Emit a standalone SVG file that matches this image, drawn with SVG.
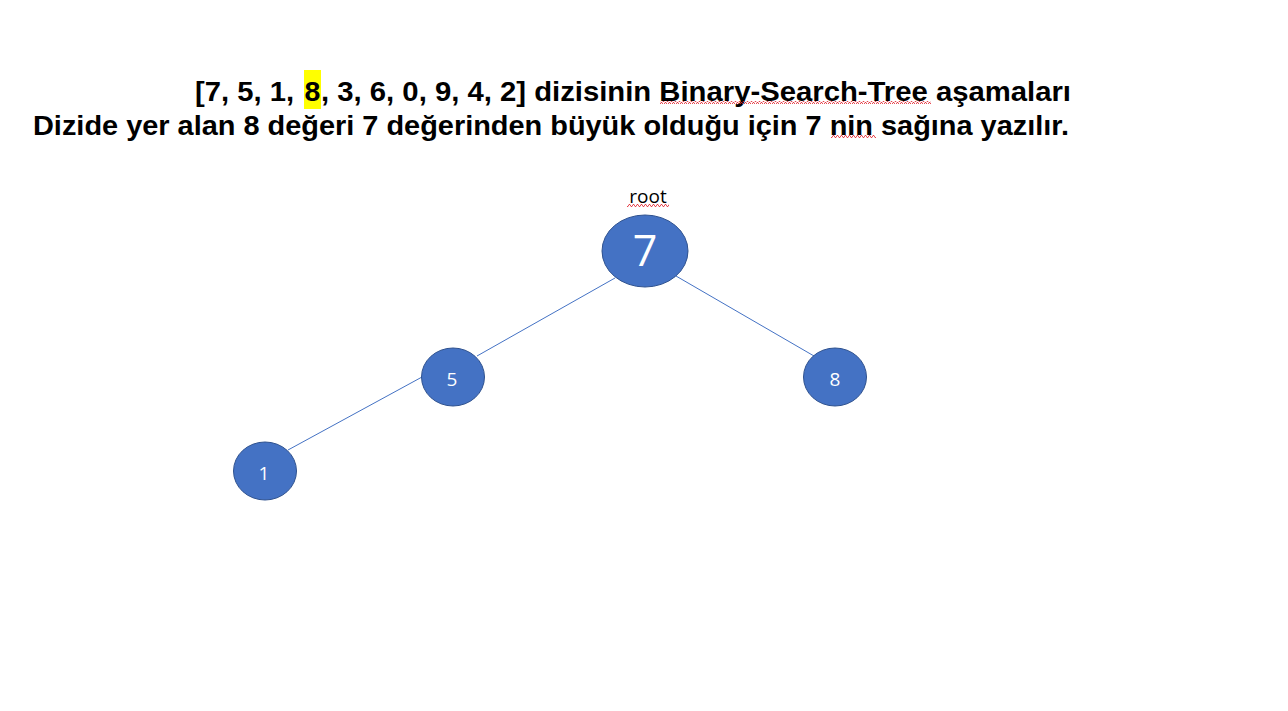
<svg xmlns="http://www.w3.org/2000/svg" width="1288" height="711" viewBox="0 0 1288 711">
<style>
.title{font-family:"Liberation Sans",Arial,sans-serif;font-weight:700;font-size:28.5px;fill:#000}
.node{fill:#4472C4;stroke:#2F528F;stroke-width:1}
.lbl{font-family:"Open Sans","Liberation Sans",sans-serif;fill:#fff;text-anchor:middle}
.edge{stroke:#4472C4;stroke-width:1;fill:none}
.root{font-family:"Open Sans","Liberation Sans",sans-serif;font-size:19px;fill:#000;text-anchor:middle}
</style>
<defs>
<pattern id="wave" x="0" y="0" width="4" height="3" patternUnits="userSpaceOnUse">
<polyline points="0,2.5 1,0.5 2,0.5 3,2.5 4,2.5" fill="none" stroke="#E0202A" stroke-width="0.8"/>
</pattern>
</defs>
<rect width="1288" height="711" fill="#fff"/>
<g id="title">
<rect x="304" y="70" width="17" height="39" fill="#FFFF00"/>
<text class="title" y="101"><tspan x="195" textLength="99" lengthAdjust="spacingAndGlyphs">[7, 5, 1,</tspan><tspan x="304.5">8</tspan><tspan x="321" textLength="750" lengthAdjust="spacingAndGlyphs">, 3, 6, 0, 9, 4, 2] dizisinin Binary-Search-Tree aşamaları</tspan></text>
<text class="title" x="33" y="135" textLength="1036" lengthAdjust="spacingAndGlyphs">Dizide yer alan 8 değeri 7 değerinden büyük olduğu için 7 nin sağına yazılır.</text>
<rect x="660" y="101" width="271" height="3" fill="url(#wave)"/>
<rect x="831" y="135" width="45" height="3" fill="url(#wave)"/>
</g>
<g id="connectors">
<line class="edge" x1="615" y1="278" x2="477" y2="356"/>
<line class="edge" x1="676" y1="276" x2="814" y2="356"/>
<line class="edge" x1="422" y1="377" x2="288" y2="450"/>
</g>
<g id="root-label">
<text class="root" x="648" y="203">root</text>
<rect x="627" y="204" width="42" height="3" fill="url(#wave)"/>
</g>
<g id="node7">
<ellipse class="node" cx="645" cy="251" rx="43" ry="36"/>
<text class="lbl" x="645" y="266" font-size="43">7</text>
</g>
<g id="node5">
<ellipse class="node" cx="453" cy="377" rx="31.5" ry="29"/>
<text class="lbl" x="452" y="386" font-size="19">5</text>
</g>
<g id="node8">
<ellipse class="node" cx="835" cy="377" rx="31.5" ry="29"/>
<text class="lbl" x="835" y="386" font-size="19">8</text>
</g>
<g id="node1">
<ellipse class="node" cx="265" cy="471" rx="31.5" ry="29"/>
<text class="lbl" x="264" y="480" font-size="19">1</text>
</g>
</svg>
